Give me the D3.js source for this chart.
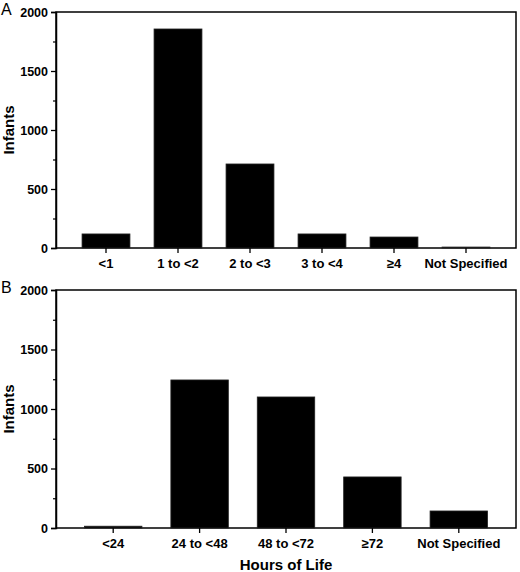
<!DOCTYPE html>
<html>
<head>
<meta charset="utf-8">
<script src="https://cdn.jsdelivr.net/npm/d3@7"></script>
<style>
  body { margin: 0; background: #fff; }
  text { font-family: Arial, "Liberation Sans", sans-serif; }
</style>
</head>
<body>
<div id="chart"></div>
<script>
const categoriesA = ["<1", "1 to <2", "2 to <3", "3 to <4", "≥4", "Not Specified"];
const valuesA = [119, 1856, 712, 119, 93, 8];

const categoriesB = ["<24", "24 to <48", "48 to <72", "≥72", "Not Specified"];
const valuesB = [15, 1244, 1101, 429, 143];

const yTicks = [0, 500, 1000, 1500, 2000];
const yMinorTicks = [250, 750, 1250, 1750];

const width = 520;
const height = 572;

const svg = d3
  .select("#chart")
  .append("svg")
  .attr("width", width)
  .attr("height", height);

function drawPanel(letter, top, bottom, categories, values) {
  const g = svg.append("g");

  const x = d3
    .scaleBand()
    .domain(categories)
    .range([70, 502])
    .paddingInner(0.335)
    .paddingOuter(0.1675);

  const y = d3.scaleLinear().domain([0, 2000]).range([bottom, top]);

  // frame
  g.append("rect")
    .attr("x", 56)
    .attr("y", top)
    .attr("width", 516 - 56)
    .attr("height", bottom - top)
    .attr("fill", "none")
    .attr("stroke", "#000")
    .attr("stroke-width", 1.5);

  g.selectAll("rect.bar")
    .data(values)
    .enter()
    .append("rect")
    .attr("class", "bar")
    .attr("x", (d, i) => x(categories[i]))
    .attr("y", (d) => y(d))
    .attr("width", x.bandwidth())
    .attr("height", (d) => bottom - y(d))
    .attr("fill", "#000")
    .attr("stroke", "#222")
    .attr("stroke-width", 0.8);

  // y axis
  const yAxis = g
    .append("g")
    .attr("transform", "translate(56,0)")
    .call(
      d3
        .axisLeft(y)
        .tickValues(yTicks)
        .tickSize(5)
        .tickPadding(3)
        .tickFormat(d3.format("d"))
    );
  yAxis.select(".domain").attr("stroke-width", 1.5);
  yAxis.selectAll(".tick line").attr("stroke-width", 1.3);
  yAxis
    .selectAll("text")
    .style("font-size", "12.5px")
    .style("font-weight", "bold")
    .attr("fill", "#000");

  g.append("g")
    .attr("transform", "translate(56,0)")
    .call(d3.axisLeft(y).tickValues(yMinorTicks).tickSize(3).tickFormat(""))
    .call((a) => a.select(".domain").remove())
    .selectAll(".tick line")
    .attr("stroke-width", 1.2);

  // x axis
  const xAxis = g
    .append("g")
    .attr("transform", `translate(0,${bottom})`)
    .call(d3.axisBottom(x).tickSize(5).tickPadding(6));
  xAxis.select(".domain").remove();
  xAxis.selectAll(".tick line").attr("stroke-width", 1.3);
  xAxis
    .selectAll("text")
    .style("font-size", "13px")
    .style("font-weight", "bold")
    .attr("fill", "#000");

  g.append("text")
    .attr("transform", `translate(14,${(top + bottom) / 2}) rotate(-90)`)
    .attr("text-anchor", "middle")
    .style("font-size", "15px")
    .style("font-weight", "bold")
    .text("Infants");

  g.append("text")
    .attr("x", 1)
    .attr("y", top + 3)
    .style("font-size", "16px")
    .text(letter);
}

drawPanel("A", 12, 248, categoriesA, valuesA);
drawPanel("B", 290, 528, categoriesB, valuesB);

svg.append("text")
  .attr("x", 286)
  .attr("y", 570)
  .attr("text-anchor", "middle")
  .style("font-size", "15px")
  .style("font-weight", "bold")
  .text("Hours of Life");
</script>
</body>
</html>
